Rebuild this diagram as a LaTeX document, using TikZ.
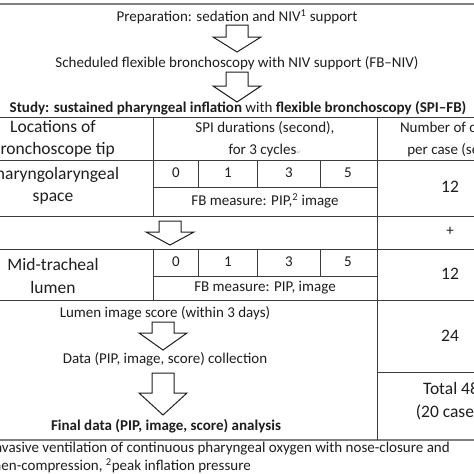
\documentclass[tikz,border=0pt]{standalone}
\usepackage{fontspec}
\setmainfont{Carlito}
\newfontfamily\symfont{DejaVu Sans}
\usetikzlibrary{calc}

\definecolor{ink}{HTML}{1E1E1E}
\definecolor{rule}{HTML}{3C3C3C}

% block arrow from a named coordinate down to another one
\newcommand{\fatarrow}[3]{%
  \draw[fat] let \p1=(#1), \p2=(#2) in
    (\x1-11pt,\y1) -- (\x1+11pt,\y1) -- (\x1+11pt,\y2+#3pt) -- (\x1+24pt,\y2+#3pt)
    -- (\x2,\y2) -- (\x1-24pt,\y2+#3pt) -- (\x1-11pt,\y2+#3pt) -- cycle;}

\begin{document}
\begin{tikzpicture}[x=1pt, y=-1pt,
    txt/.style={font=\fontsize{15}{22}\selectfont, text=ink, inner sep=0pt, align=center},
    bigtxt/.style={font=\fontsize{17.5}{22.5}\selectfont, text=ink, inner sep=0pt, align=center},
    grid/.style={draw=rule, line width=0.8pt},
    frame/.style={draw=rule!65, line width=1.3pt},
    fat/.style={draw=ink, line width=1pt, fill=white, line join=miter}
]
\useasboundingbox (0,0) rectangle (474,474);
\clip (0,0) rectangle (474,474);
\fill[white] (0,0) rectangle (474,474);

% flow above the table
\node[txt] (prep) at (237,17) {Preparation: sedation and NIV\textsuperscript{1} support};
\node[txt] (sched) at (237,63) {Scheduled flexible bronchoscopy with NIV support (FB--NIV)};
\node[txt] (study) at (238,108) {\textbf{Study: sustained pharyngeal inflation} with \textbf{flexible bronchoscopy (SPI--FB)}};

\coordinate (a1s) at (237,25);
\coordinate (a1e) at (237,52);
\coordinate (a2s) at (237,72);
\coordinate (a2e) at (237,102);
\fatarrow{a1s}{a1e}{15}
\fatarrow{a2s}{a2e}{16}

% table rules
\draw[frame] (0,4) -- (474,4);
\draw[frame] (0,440) -- (474,440);
\draw[grid] (0,117) -- (474,117);
\draw[grid] (0,160) -- (474,160);
\draw[grid] (153,187) -- (377,187);
\draw[grid] (0,216) -- (474,216);
\draw[grid] (0,249) -- (474,249);
\draw[grid] (153,276) -- (377,276);
\draw[grid] (0,300) -- (474,300);
\draw[grid] (377,372) -- (474,372);
\draw[grid] (153,117) -- (153,216);
\draw[grid] (153,249) -- (153,300);
\draw[grid] (377,117) -- (377,440);
\foreach \x in {198,257,320} {
  \draw[grid] (\x,160) -- (\x,187);
  \draw[grid] (\x,249) -- (\x,276);
}

% header row
\node[bigtxt] (loc) at (53,139) {Locations of\\Bronchoscope tip};
\node[txt] (dur) at (265,139) {SPI durations (second),\\for 3 cycles{\symfont\fontsize{6}{6}\selectfont\color{ink!35}↵}};
\node[txt] (num) at (451,139) {Number of cases\\per case (sets)};

% pharyngolaryngeal row
\node[bigtxt] (phar) at (53,186) {Pharyngolaryngeal\\space};
\node[txt] (p0) at (176,173) {0};
\node[txt] (p1) at (228,173) {1};
\node[txt] (p3) at (289,173) {3};
\node[txt] (p5) at (348,173) {5};
\node[txt] (pfb) at (265,201) {FB measure: PIP,\textsuperscript{2} image};
\node[bigtxt] (pn) at (450,187) {12};

% arrow row
\coordinate (a3s) at (170,221);
\coordinate (a3e) at (170,245);
\fatarrow{a3s}{a3e}{13}
\node[txt] (plus) at (450,231) {+};

% mid-tracheal row
\node[bigtxt] (mid) at (53,276) {Mid-tracheal\\lumen};
\node[txt] (m0) at (176,262) {0};
\node[txt] (m1) at (228,262) {1};
\node[txt] (m3) at (289,262) {3};
\node[txt] (m5) at (348,262) {5};
\node[txt] (mfb) at (265,288) {FB measure: PIP, image};
\node[bigtxt] (mn) at (450,274) {12};

% scoring and analysis
\node[txt] (score) at (165,313) {Lumen image score (within 3 days)};
\node[txt] (data) at (165,359) {Data (PIP, image, score) collection};
\node[txt] (final) at (166,426) {\textbf{Final data (PIP, image, score) analysis}};
\coordinate (a4s) at (163,322);
\coordinate (a4e) at (163,350);
\coordinate (a5s) at (163,373);
\coordinate (a5e) at (163,415);
\fatarrow{a4s}{a4e}{17}
\fatarrow{a5s}{a5e}{22}
\node[bigtxt] (sum) at (450,336) {24};
\node[bigtxt] (total) at (451,401) {Total 48\\(20 cases)};

% footnote
\node[txt, anchor=east] (note1) at (450,448) {\textsuperscript{1}Noninvasive ventilation of continuous pharyngeal oxygen with nose-closure and};
\node[txt, anchor=east] (note2) at (251,466) {abdomen-compression, \textsuperscript{2}peak inflation pressure};
\end{tikzpicture}
\end{document}
